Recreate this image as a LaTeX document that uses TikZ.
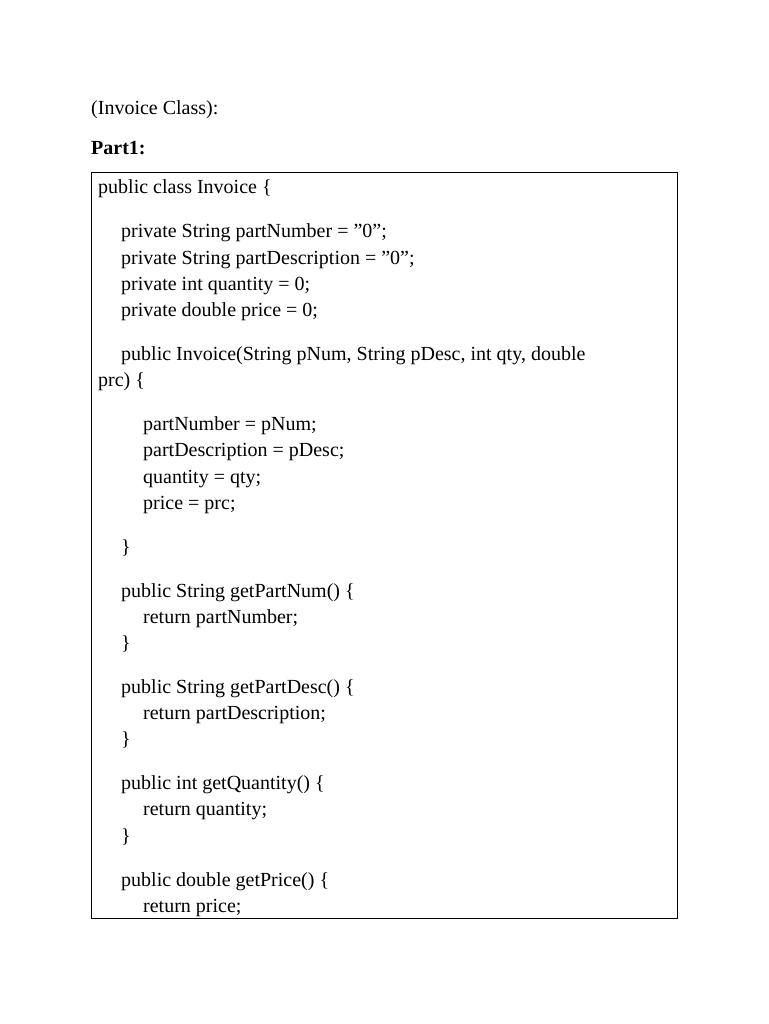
\documentclass[tikz,border=0pt]{standalone}
\usepackage{fontspec}
\setmainfont{Liberation Serif}
\begin{document}
\begin{tikzpicture}[x=1pt,y=-1pt,
  txt/.style={anchor=base west,inner sep=0pt,font=\fontsize{20}{24}\selectfont}]
\useasboundingbox (0,0) rectangle (768,1024);
\draw[line width=0.8pt] (91,172) rectangle (677,918);
\node[txt] (t0) at (91,115) {(Invoice Class):};
\node[txt,font=\fontsize{20}{24}\selectfont\bfseries] (t1) at (91,155) {Part1:};
\node[txt] (a1) at (98,194) {public class Invoice \{};
\node[txt] (a2) at (121,237) {private String partNumber = "0";};
\node[txt] (a3) at (121,264) {private String partDescription = "0";};
\node[txt] (a4) at (121,290) {private int quantity = 0;};
\node[txt] (a5) at (121,316) {private double price = 0;};
\node[txt] (a6) at (121,360) {public Invoice(String pNum, String pDesc, int qty, double};
\node[txt] (a7) at (98,386) {prc) \{};
\node[txt] (a8) at (143,430) {partNumber = pNum;};
\node[txt] (a9) at (143,456) {partDescription = pDesc;};
\node[txt] (a10) at (143,483) {quantity = qty;};
\node[txt] (a11) at (143,509) {price = prc;};
\node[txt] (a12) at (121,553) {\}};
\node[txt] (a13) at (121,597) {public String getPartNum() \{};
\node[txt] (a14) at (143,623) {return partNumber;};
\node[txt] (a15) at (121,649) {\}};
\node[txt] (a16) at (121,693) {public String getPartDesc() \{};
\node[txt] (a17) at (143,719) {return partDescription;};
\node[txt] (a18) at (121,745) {\}};
\node[txt] (a19) at (121,789) {public int getQuantity() \{};
\node[txt] (a20) at (143,815) {return quantity;};
\node[txt] (a21) at (121,842) {\}};
\node[txt] (a22) at (121,886) {public double getPrice() \{};
\node[txt] (a23) at (143,912) {return price;};
\end{tikzpicture}
\end{document}
